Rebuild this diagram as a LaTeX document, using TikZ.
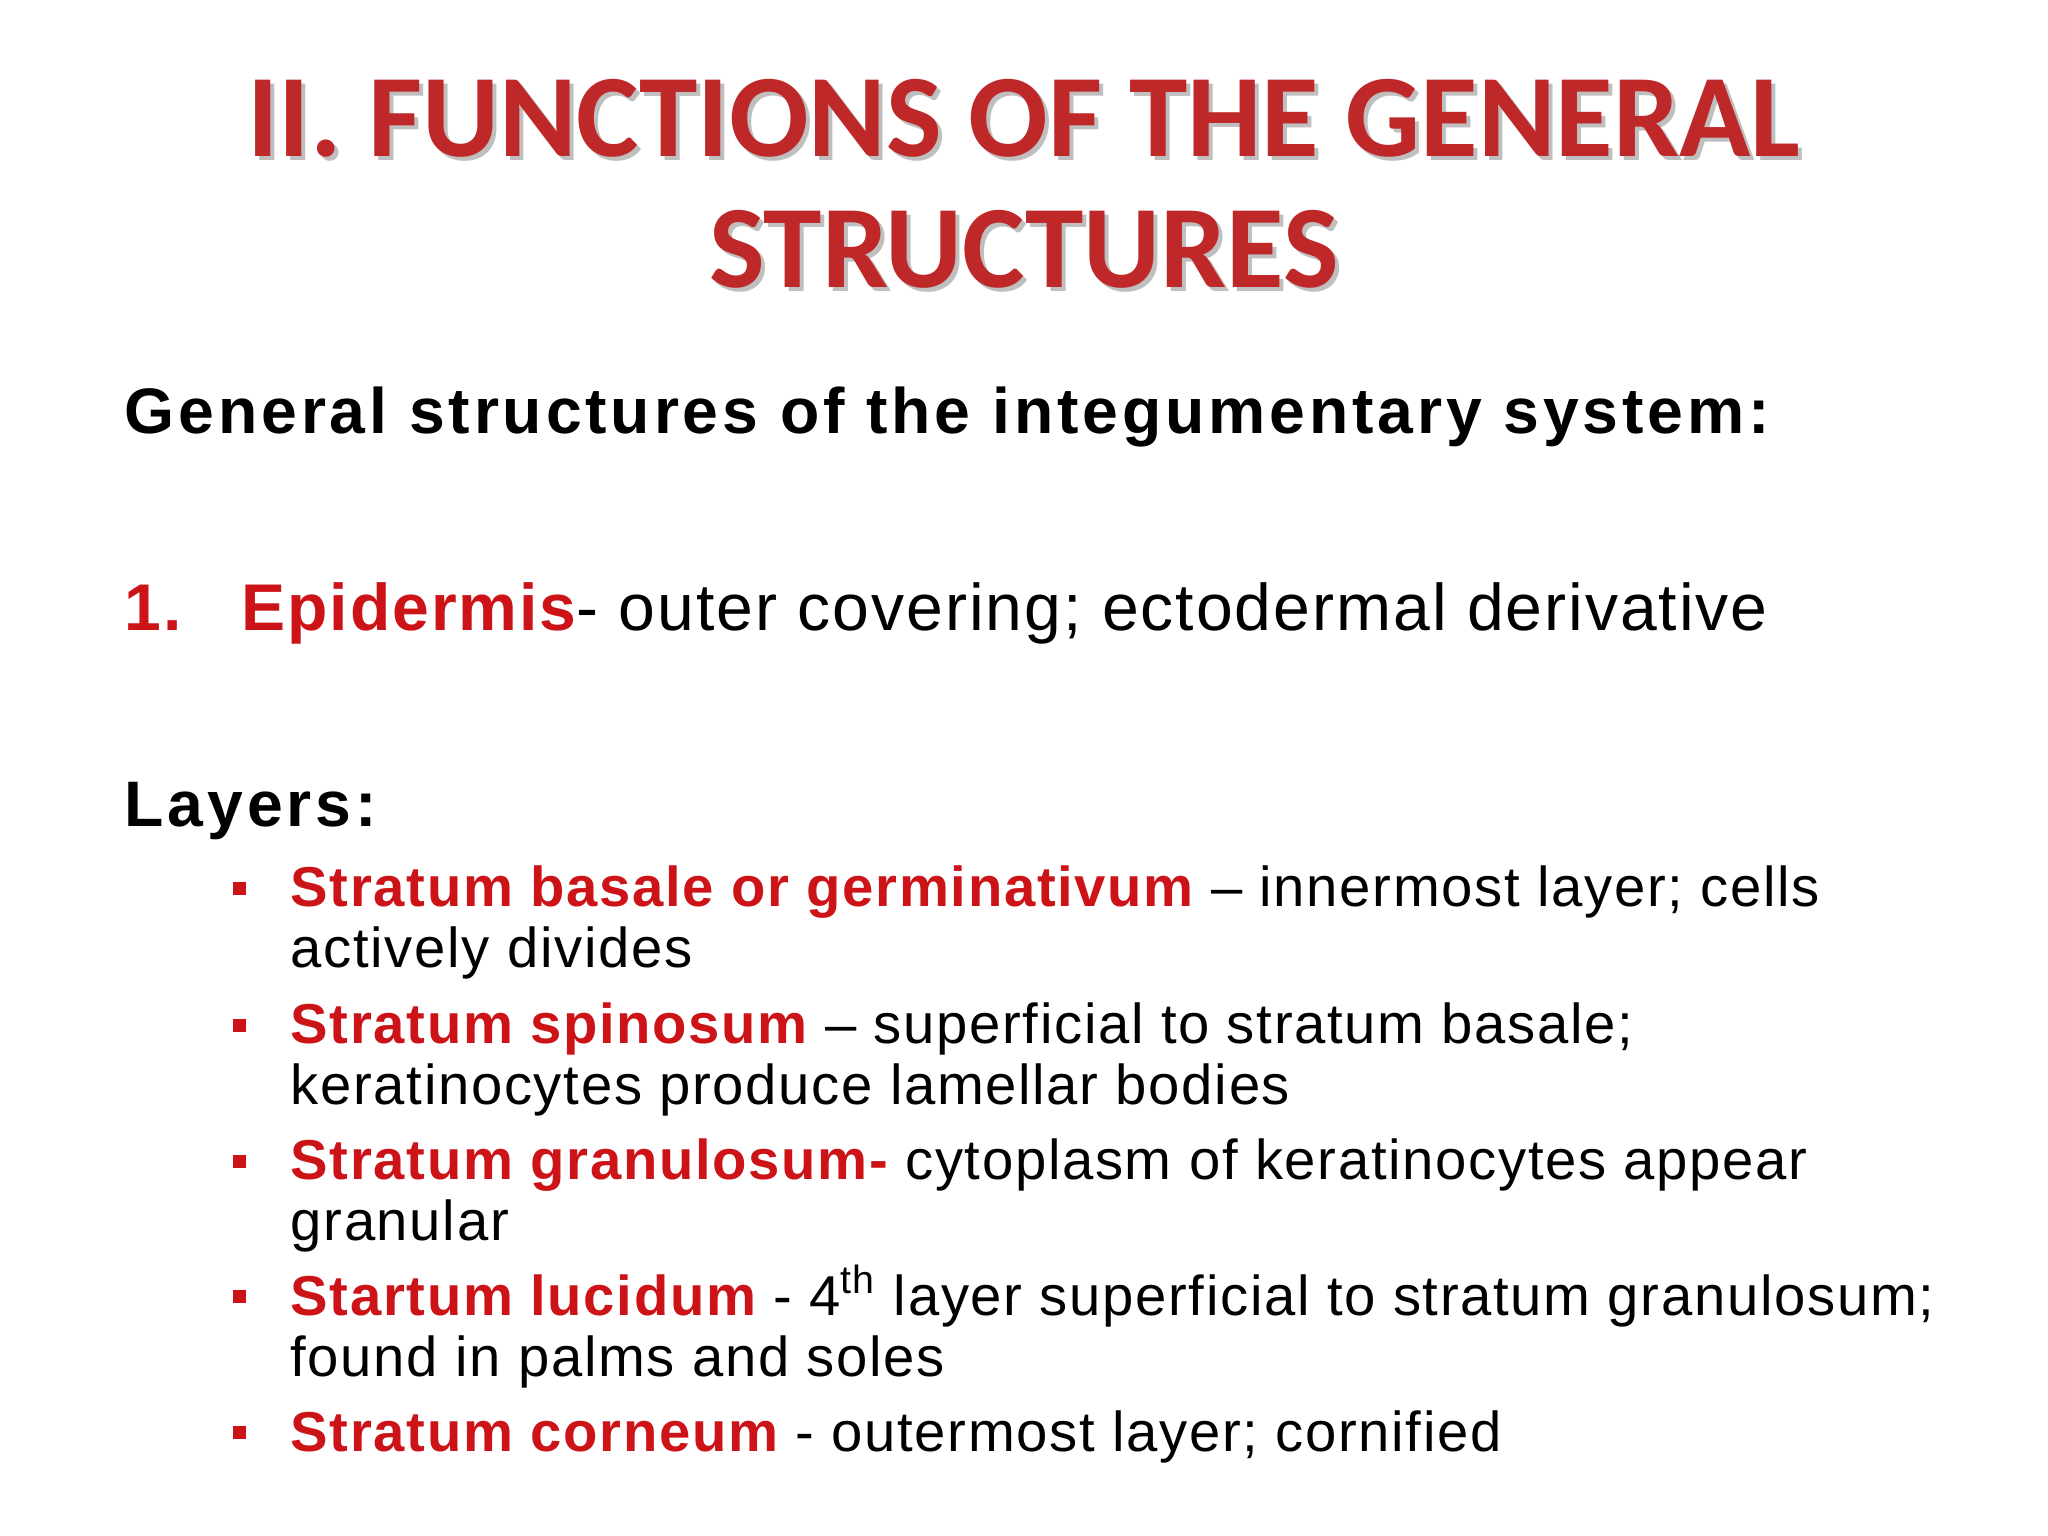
\documentclass[tikz,border=0pt]{standalone}
\usepackage{fontspec}
\setmainfont{Liberation Sans}
\newfontfamily\titlefont{Carlito}
\newfontfamily\widefont[LetterSpace=6]{Liberation Sans}
\newfontfamily\epidfont[LetterSpace=3]{Liberation Sans}
\newfontfamily\itemfont[LetterSpace=3]{Liberation Sans}
\definecolor{slidered}{RGB}{204, 20, 24}
\definecolor{titlered}{RGB}{190, 40, 40}
\tikzset{
  titletext/.style={font=\titlefont\bfseries\fontsize{33.5}{40}\selectfont, text=titlered, anchor=base},
  shadowtext/.style={font=\titlefont\bfseries\fontsize{33.5}{40}\selectfont, text=black!25, anchor=base},
  headtext/.style={font=\widefont\bfseries\fontsize{18.3}{20}\selectfont, anchor=base west, inner sep=0pt},
  itemtext/.style={font=\itemfont\fontsize{16}{17.2}\selectfont, anchor=base west, inner sep=0pt},
  bulletmark/.style={fill=slidered, minimum size=0.13cm, inner sep=0pt}
}
\newcommand{\rb}[1]{\textcolor{slidered}{\bfseries #1}}
\begin{document}
\begin{tikzpicture}[x=0.01306cm, y=-0.01306cm]
  \useasboundingbox (0,0) rectangle (1568,1176);
  % title
  \node[shadowtext] (shadowa) at (787,123) {II. FUNCTIONS OF THE GENERAL};
  \node[shadowtext] (shadowb) at (787,223) {STRUCTURES};
  \node[titletext] (titlea) at (784,120) {II. FUNCTIONS OF THE GENERAL};
  \node[titletext] (titleb) at (784,220) {STRUCTURES};
  % headings
  \node[headtext] (general) at (95,332) {General structures of the integumentary system:};
  \node[headtext, font=\epidfont\fontsize{18.8}{20}\selectfont] (epid) at (95,483)
    {\rb{1.}\hspace{0.9em}\rb{Epidermis}- outer covering; ectodermal derivative};
  \node[headtext] (layers) at (95,633) {Layers:};
  % layers
  \foreach \y/\first/\second in {
    694/{\rb{Stratum basale or germinativum} \textendash{} innermost layer; cells}/{actively divides},
    799/{\rb{Stratum spinosum} \textendash{} superficial to stratum basale;}/{keratinocytes produce lamellar bodies},
    903/{\rb{Stratum granulosum-} cytoplasm of keratinocytes appear}/{granular},
    1007/{\rb{Startum lucidum} - 4\textsuperscript{th} layer superficial to stratum granulosum;}/{found in palms and soles},
    1111/{\rb{Stratum corneum} - outermost layer; cornified}/{}}{
    \node[bulletmark] at (183,\y-14) {};
    \node[itemtext] at (222,\y) {\first};
    \node[itemtext] at (222,\y+47) {\second};
  }
\end{tikzpicture}
\end{document}
